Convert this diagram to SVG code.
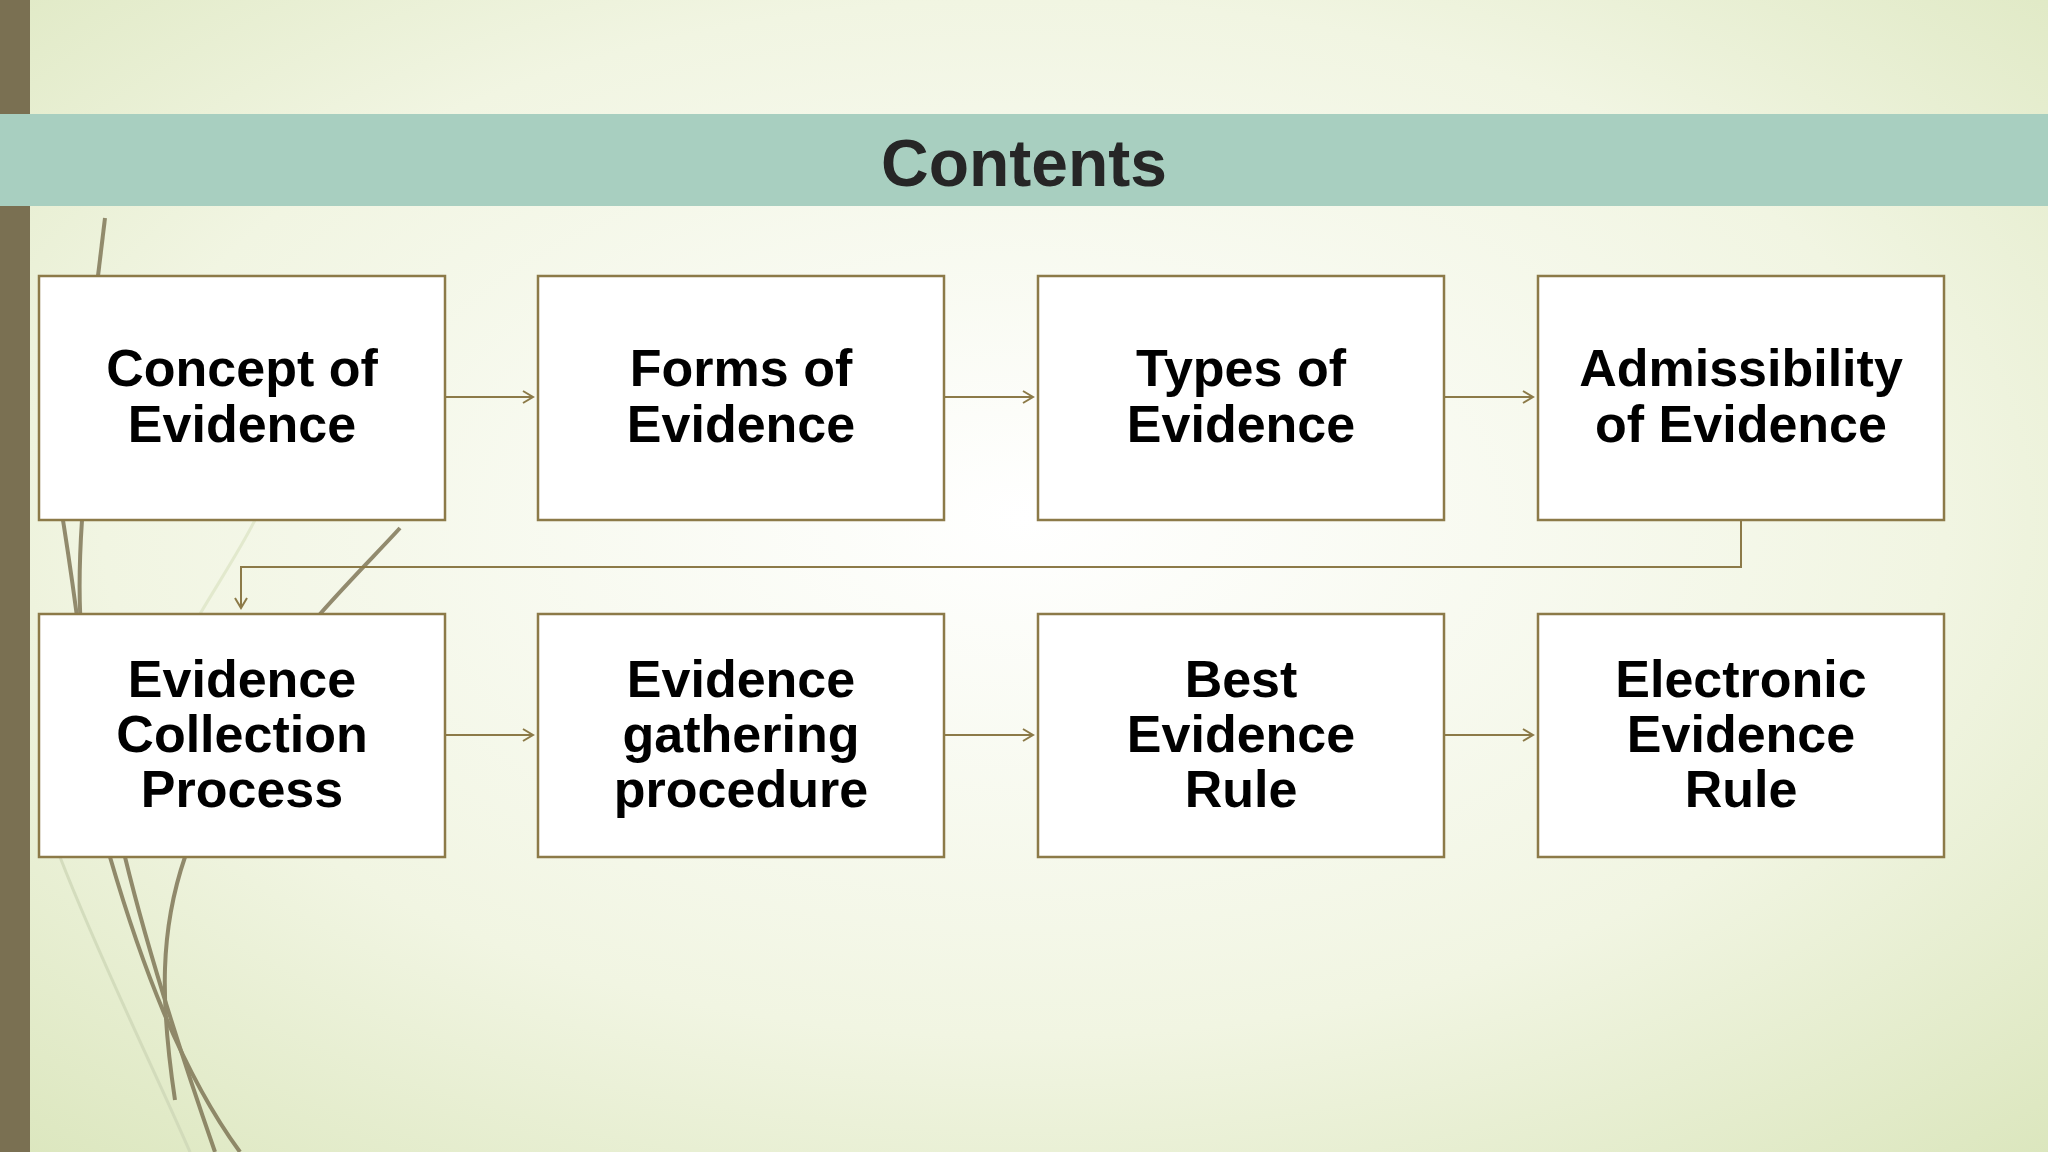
<svg xmlns="http://www.w3.org/2000/svg" width="2048" height="1152" viewBox="0 0 2048 1152">
<defs>
<radialGradient id="bg" cx="0.5" cy="0.45" r="0.75">
<stop offset="0" stop-color="#ffffff"/><stop offset="0.6" stop-color="#f1f5e2"/><stop offset="1" stop-color="#dbe6bd"/>
</radialGradient>
<marker id="ah" markerWidth="14" markerHeight="14" refX="12" refY="7" orient="auto" markerUnits="userSpaceOnUse">
<path d="M2,1 L12,7 L2,13" fill="none" stroke="#8c7a48" stroke-width="2"/>
</marker>
<style>
.box{fill:#fff;stroke:#8c7a48;stroke-width:2.5}
.t{font-family:"Liberation Sans",Arial,sans-serif;font-weight:bold;font-size:52px;fill:#000;text-anchor:middle}
.c{fill:none;stroke:#8c7a48;stroke-width:2;marker-end:url(#ah)}
.d{fill:none;stroke:#7a7050;stroke-width:4}
</style>
</defs>
<rect width="2048" height="1152" fill="url(#bg)"/>
<g id="deco" opacity="0.8">
<path class="d" d="M40,380 C60,500 70,560 80,640"/>
<path class="d" d="M82,520 C78,580 80,620 82,640"/>
<path class="d" d="M110,857 C140,960 180,1070 240,1152"/>
<path class="d" d="M125,857 C150,960 190,1080 215,1152"/>
<path class="d" d="M185,857 C160,930 160,1000 175,1100"/>
<path class="d" stroke-width="2" d="M320,614 C350,580 380,550 400,528"/>
<path class="d" stroke-width="2" d="M98,276 L105,218"/>
<path fill="none" stroke="#cfd8b8" stroke-width="3" d="M60,857 C100,960 150,1060 190,1152"/>
<path fill="none" stroke="#dfe6c8" stroke-width="3" d="M200,614 C220,580 240,550 255,520"/>
</g>
<rect x="0" y="0" width="30" height="1152" fill="#7a7052"/>
<rect x="0" y="114" width="2048" height="92" fill="#a8cfc0"/>
<text x="1024" y="186" font-family="Liberation Sans,Arial,sans-serif" font-weight="bold" font-size="66" fill="#262626" text-anchor="middle">Contents</text>
<g id="connectors">
<path class="c" d="M445,397 L533,397"/>
<path class="c" d="M944,397 L1033,397"/>
<path class="c" d="M1444,397 L1533,397"/>
<path class="c" d="M1741,520 L1741,567 L241,567 L241,608"/>
<path class="c" d="M445,735 L533,735"/>
<path class="c" d="M944,735 L1033,735"/>
<path class="c" d="M1444,735 L1533,735"/>
</g>
<g id="n1"><rect class="box" x="39" y="276" width="406" height="244"/><text class="t" x="242" y="386">Concept of</text><text class="t" x="242" y="442">Evidence</text></g>
<g id="n2"><rect class="box" x="538" y="276" width="406" height="244"/><text class="t" x="741" y="386">Forms of</text><text class="t" x="741" y="442">Evidence</text></g>
<g id="n3"><rect class="box" x="1038" y="276" width="406" height="244"/><text class="t" x="1241" y="386">Types of</text><text class="t" x="1241" y="442">Evidence</text></g>
<g id="n4"><rect class="box" x="1538" y="276" width="406" height="244"/><text class="t" x="1741" y="386">Admissibility</text><text class="t" x="1741" y="442">of Evidence</text></g>
<g id="n5"><rect class="box" x="39" y="614" width="406" height="243"/><text class="t" x="242" y="697">Evidence</text><text class="t" x="242" y="752">Collection</text><text class="t" x="242" y="807">Process</text></g>
<g id="n6"><rect class="box" x="538" y="614" width="406" height="243"/><text class="t" x="741" y="697">Evidence</text><text class="t" x="741" y="752">gathering</text><text class="t" x="741" y="807">procedure</text></g>
<g id="n7"><rect class="box" x="1038" y="614" width="406" height="243"/><text class="t" x="1241" y="697">Best</text><text class="t" x="1241" y="752">Evidence</text><text class="t" x="1241" y="807">Rule</text></g>
<g id="n8"><rect class="box" x="1538" y="614" width="406" height="243"/><text class="t" x="1741" y="697">Electronic</text><text class="t" x="1741" y="752">Evidence</text><text class="t" x="1741" y="807">Rule</text></g>
</svg>
